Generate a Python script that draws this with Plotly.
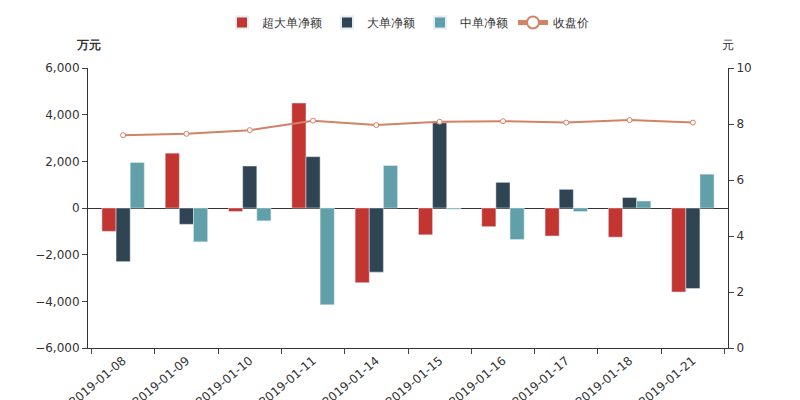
import plotly.graph_objects as go

dates = ["2019-01-08","2019-01-09","2019-01-10","2019-01-11","2019-01-14",
         "2019-01-15","2019-01-16","2019-01-17","2019-01-18","2019-01-21"]
super_large = [-1000, 2350, -150, 4500, -3200, -1150, -800, -1200, -1250, -3600]
large = [-2300, -700, 1800, 2200, -2750, 3650, 1100, 800, 450, -3450]
medium = [1950, -1450, -550, -4150, 1820, -50, -1350, -150, 300, 1450]
close = [7.6, 7.65, 7.78, 8.12, 7.96, 8.08, 8.1, 8.05, 8.14, 8.05]

fig = go.Figure()
fig.add_bar(x=dates, y=super_large, name="超大单净额", marker_color="#c23531")
fig.add_bar(x=dates, y=large, name="大单净额", marker_color="#2f4554")
fig.add_bar(x=dates, y=medium, name="中单净额", marker_color="#61a0a8")
fig.add_scatter(x=dates, y=close, name="收盘价", yaxis="y2", mode="lines+markers",
                line=dict(color="#d48265", width=2),
                marker=dict(symbol="circle", size=5, color="white",
                            line=dict(color="#d48265", width=1)))

fig.update_layout(
    width=800, height=400, plot_bgcolor="white", paper_bgcolor="white",
    font=dict(family="DejaVu Sans", size=12, color="#333"),
    margin=dict(l=80, r=80, t=60, b=60, autoexpand=False),
    barmode="group", bargap=0.33, bargroupgap=0.0,
    legend=dict(orientation="h", x=0.5, xanchor="center", y=1.0, yanchor="top",
                yref="container", font=dict(size=12), itemsizing="constant"),
    xaxis=dict(type="category", showline=True, linecolor="#333", ticks="outside",
               tickson="boundaries", ticklen=5, tickangle=-40, showgrid=False,
               tickfont=dict(size=12)),
    yaxis=dict(range=[-6000, 6000], dtick=2000, tickformat=",", showline=True,
               linecolor="#333", ticks="outside", ticklen=5, showgrid=False,
               zeroline=True, zerolinecolor="#333", zerolinewidth=1),
    yaxis2=dict(range=[0, 10], dtick=2, overlaying="y", side="right", showline=True,
                linecolor="#333", ticks="outside", ticklen=5, showgrid=False,
                zeroline=False),
    annotations=[
        dict(text="<b>万元</b>", xref="paper", yref="paper", x=0, y=1.05,
             xanchor="center", yanchor="bottom", showarrow=False, font=dict(size=12)),
        dict(text="元", xref="paper", yref="paper", x=1, y=1.05,
             xanchor="center", yanchor="bottom", showarrow=False, font=dict(size=12)),
    ],
)
fig.write_html("out.html")
